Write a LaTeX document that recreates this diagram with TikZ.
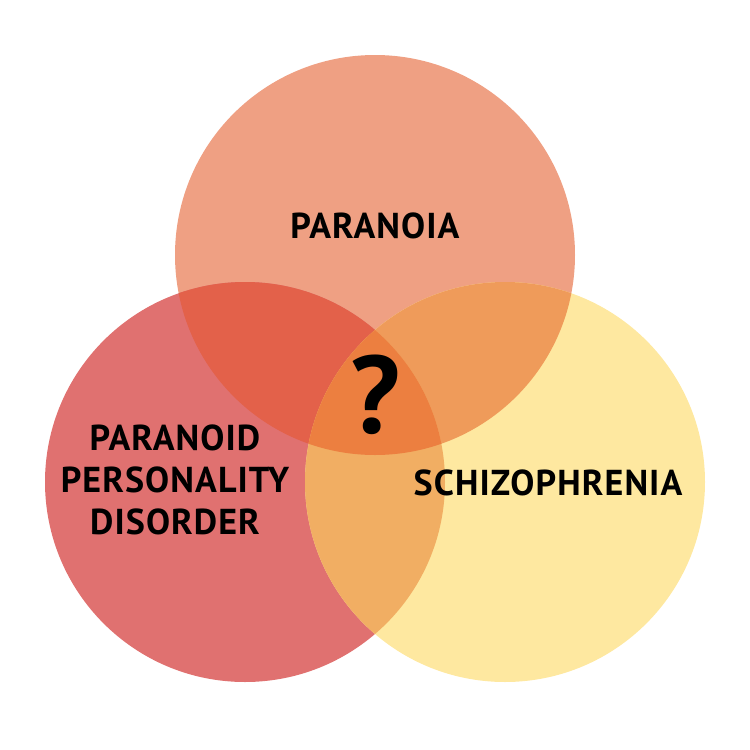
\documentclass[tikz,border=0pt]{standalone}
\usepackage{fontspec}
\setmainfont{PT Sans}
\newfontfamily\labelfont[LetterSpace=3]{PT Sans}
\usepackage{xcolor}
\usepackage{tikz}
\definecolor{topfill}{HTML}{EFA083}
\definecolor{leftfill}{HTML}{E07170}
\definecolor{rightfill}{HTML}{FEE8A0}
\definecolor{tlfill}{HTML}{E3614A}
\definecolor{trfill}{HTML}{EF9B5A}
\definecolor{lrfill}{HTML}{F1AE63}
\definecolor{allfill}{HTML}{EC7F40}
\tikzstyle{label}=[font=\labelfont\fontsize{36}{42}\selectfont\bfseries, text=black, align=center, inner sep=0pt]
\newcommand\topcirc{(375,255) circle (200)}
\newcommand\leftcirc{(245,482) circle (200)}
\newcommand\rightcirc{(505,482) circle (200)}

\begin{document}
\begin{tikzpicture}[x=1pt,y=-1pt]
	\useasboundingbox (0,0) rectangle (750,750);
	\fill[topfill]   \topcirc;
	\fill[leftfill]  \leftcirc;
	\fill[rightfill] \rightcirc;
	\begin{scope}
		\clip \topcirc;
		\fill[tlfill] \leftcirc;
		\fill[trfill] \rightcirc;
	\end{scope}
	\begin{scope}
		\clip \leftcirc;
		\fill[lrfill] \rightcirc;
		\clip \topcirc;
		\fill[allfill] \rightcirc;
	\end{scope}
	\node[label] (paranoia) at (375,226) {PARANOIA};
	\node[label] (ppd) at (175,480) {PARANOID\\PERSONALITY\\DISORDER};
	\node[label] (schizo) at (548,483) {SCHIZOPHRENIA};
	\node[label, font=\fontsize{110}{110}\selectfont\bfseries] (quest) at (375,395) {?};
\end{tikzpicture}
\end{document}
